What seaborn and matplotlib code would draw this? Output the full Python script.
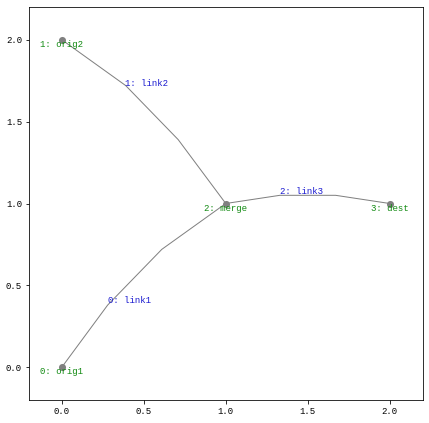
import numpy as np
import pandas as pd
import matplotlib
matplotlib.use("Agg")
import matplotlib.pyplot as plt
import seaborn as sns

# nodes
node_names = ["0: orig1", "1: orig2", "2: merge", "3: dest"]
node_x = [0, 0, 1, 2]
node_y = [0, 2, 1, 1]

# links
link1_x = [0, 0.28, 0.61, 1]
link1_y = [0, 0.38, 0.72, 1]
link2_x = [0, 0.39, 0.71, 1]
link2_y = [2, 1.72, 1.39, 1]
link3_x = [1, 1.33, 1.67, 2]
link3_y = [1, 1.05, 1.05, 1]

link_names = ["0: link1", "1: link2", "2: link3"]
link_label_x = [0.28, 0.385, 1.33]
link_label_y = [0.39, 1.72, 1.055]

sns.set_style("ticks")
plt.rcParams['font.family'] = ['Liberation Mono', 'DejaVu Sans Mono']

fig, ax = plt.subplots(figsize=(429 / 72, 423 / 72), dpi=72)
fig.subplots_adjust(left=29 / 429, right=422.5 / 429, top=1 - 7 / 423, bottom=1 - 400 / 423)

for i, (lx, ly) in enumerate([(link1_x, link1_y), (link2_x, link2_y), (link3_x, link3_y)]):
    df = pd.DataFrame({"x": lx, "y": ly})
    sns.lineplot(data=df, x="x", y="y", sort=False, estimator=None, color="gray", lw=1, ax=ax)
    ax.text(link_label_x[i], link_label_y[i], link_names[i], color="#1a1ad0", fontsize=9)

nodes = pd.DataFrame({"x": node_x, "y": node_y})
sns.scatterplot(data=nodes, x="x", y="y", color="gray", s=50, linewidth=0, ax=ax, zorder=3)
for name, x, y in zip(node_names, node_x, node_y):
    ax.annotate(name, (x, y), xytext=(0, 0), textcoords="offset points", ha="center", va="top",
                color="#118a11", fontsize=9, zorder=4)

ax.set_xlim(-0.2, 2.2)
ax.set_ylim(-0.2, 2.2)
ax.set_xticks(np.arange(0, 2.5, 0.5))
ax.set_yticks(np.arange(0, 2.5, 0.5))
ax.set_xlabel("")
ax.set_ylabel("")
ax.tick_params(axis='both', labelsize=9, length=3.5, width=0.8, color="black", labelcolor="black")
for s in ax.spines.values():
    s.set_visible(True)
    s.set_color("black")
    s.set_linewidth(0.8)

fig.savefig("out.png", dpi=72)
